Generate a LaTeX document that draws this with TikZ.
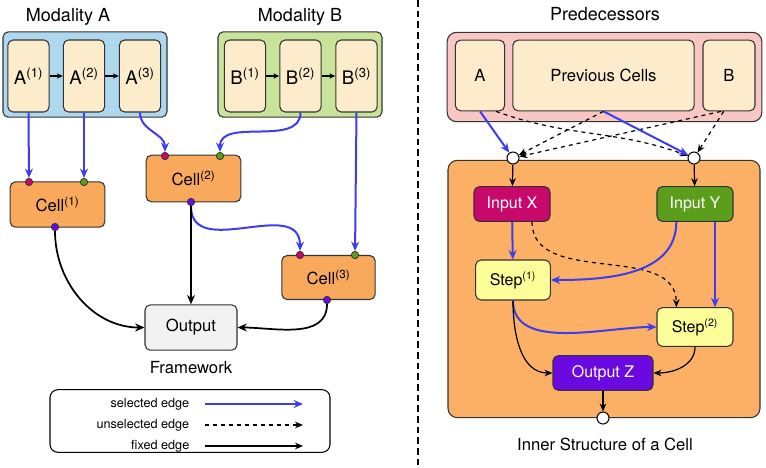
\documentclass[tikz,border=0pt]{standalone}
\usepackage{fontspec}
\setmainfont{TeX Gyre Heros}
\usetikzlibrary{arrows.meta}
\definecolor{boxA}{HTML}{AED8EE}
\definecolor{boxB}{HTML}{C8E49A}
\definecolor{inner}{HTML}{FDECCB}
\definecolor{cellc}{HTML}{F9A95C}
\definecolor{pinkc}{HTML}{F8C6C3}
\definecolor{bigor}{HTML}{FCB065}
\definecolor{magc}{HTML}{C8086B}
\definecolor{grnc}{HTML}{5A9E1C}
\definecolor{purc}{HTML}{6A0AE0}
\definecolor{yelc}{HTML}{FDFD99}
\definecolor{selc}{HTML}{3C3CF0}
\tikzset{
 box/.style={draw=black!80,line width=0.8pt,rounded corners=4pt,inner sep=0pt},
 inb/.style={box,fill=inner,font=\fontsize{14}{14}\selectfont},
 cell/.style={box,fill=cellc,font=\fontsize{12.5}{13}\selectfont},
 dot/.style={circle,draw=black!80,line width=0.6pt,minimum size=5.5pt,inner sep=0pt},
 jn/.style={circle,draw=black,line width=0.8pt,fill=white,minimum size=9pt,inner sep=0pt},
 sel/.style={draw=selc,line width=1.5pt,-{Stealth[length=7pt,width=6pt]}},
 uns/.style={draw=black,line width=0.9pt,dashed,-{Stealth[length=6pt,width=5pt]}},
 fix/.style={draw=black,line width=1.3pt,-{Stealth[length=7pt,width=6pt]}},
 fixs/.style={draw=black,line width=0.9pt,-{Stealth[length=6pt,width=5pt]}},
 ttl/.style={font=\fontsize{13.5}{14}\selectfont},
 inn/.style={box,font=\fontsize{12}{13}\selectfont,text=white},
}
\begin{document}
\begin{tikzpicture}[x=0.75pt,y=-0.75pt]
\useasboundingbox (0,0) rectangle (766,467);
% left
\node[ttl] (tA) at (68,17) {Modality A};
\node[ttl] (tB) at (300,17) {Modality B};
\node[box,fill=boxA,minimum width=123pt,minimum height=64pt] (MA) at (85,74.5) {};
\node[box,fill=boxB,minimum width=123pt,minimum height=64pt] (MB) at (300,74.5) {};
\node[inb,minimum width=31pt,minimum height=54pt] (A1) at (28.5,76) {A\textsuperscript{(1)}};
\node[inb,minimum width=31pt,minimum height=54pt] (A2) at (84,76) {A\textsuperscript{(2)}};
\node[inb,minimum width=31pt,minimum height=54pt] (A3) at (140,76) {A\textsuperscript{(3)}};
\node[inb,minimum width=31pt,minimum height=54pt] (B1) at (245,76) {B\textsuperscript{(1)}};
\node[inb,minimum width=31pt,minimum height=54pt] (B2) at (300.5,76) {B\textsuperscript{(2)}};
\node[inb,minimum width=31pt,minimum height=54pt] (B3) at (356.5,76) {B\textsuperscript{(3)}};
\foreach \a/\b in {A1/A2,A2/A3,B1/B2,B2/B3}
  \draw[line width=0.8pt,-{Stealth[length=4.5pt,width=4pt]}] (\a) -- (\b);
\node[cell,minimum width=71pt,minimum height=34pt] (C1) at (57.5,204.5) {Cell\textsuperscript{(1)}};
\node[cell,minimum width=71pt,minimum height=35pt] (C2) at (193.5,178.5) {Cell\textsuperscript{(2)}};
\node[cell,minimum width=70pt,minimum height=33pt] (C3) at (328.5,277.5) {Cell\textsuperscript{(3)}};
\node[box,fill=black!5,minimum width=69pt,minimum height=34pt,font=\fontsize{12.5}{13}\selectfont] (Out) at (191,327.5) {Output};
\node[ttl,font=\fontsize{12.5}{13}\selectfont] (fw) at (191,368) {Framework};
\node[dot,fill=magc] (c1m) at (29,182) {};
\node[dot,fill=grnc] (c1g) at (84,182) {};
\node[dot,fill=purc] (c1o) at (55,227) {};
\node[dot,fill=magc] (c2m) at (165,156) {};
\node[dot,fill=grnc] (c2g) at (220,156) {};
\node[dot,fill=purc] (c2o) at (191,202) {};
\node[dot,fill=magc] (c3m) at (300,255) {};
\node[dot,fill=grnc] (c3g) at (355,255) {};
\node[dot,fill=purc] (c3o) at (327,300) {};
\draw[sel] (A3.south) to[out=-90,in=90] (c2m);
\draw[sel] (A1.south) -- (c1m);
\draw[sel] (A2.south) -- (c1g);
\draw[sel] (B2.south) to[out=-90,in=90] (c2g);
\draw[sel] (B3.south) -- (c3g);
\draw[sel] (c2o) to[out=-90,in=90,looseness=1.2] (c3m);
\draw[fix] (c1o) to[out=-90,in=180] (Out.west);
\draw[fix] (c2o) -- (Out.north);
\draw[fix] (c3o) to[out=-90,in=0] (Out.east);
% legend
\node[box,draw=black,fill=white,minimum width=210pt,minimum height=47pt,rounded corners=6pt] (leg) at (190,421) {};
\node[anchor=east,font=\fontsize{9.5}{10}\selectfont] (l1) at (194,404) {selected edge};
\node[anchor=east,font=\fontsize{9.5}{10}\selectfont] (l2) at (194,425) {unselected edge};
\node[anchor=east,font=\fontsize{9.5}{10}\selectfont] (l3) at (194,446) {fixed edge};
\coordinate (s1) at (205,404); \coordinate (e1) at (303,404);
\coordinate (s2) at (205,425); \coordinate (e2) at (303,425);
\coordinate (s3) at (205,446); \coordinate (e3) at (303,446);
\draw[sel] (s1) -- (e1);
\draw[uns] (s2) -- (e2);
\draw[fixs,line width=1.1pt] (s3) -- (e3);
% divider
\coordinate (d1) at (418,0); \coordinate (d2) at (418,467);
\draw[line width=1pt,dash pattern=on 5pt off 3pt] (d1) -- (d2);
% right
\node[ttl] (tP) at (605,14) {Predecessors};
\node[box,fill=pinkc,minimum width=236pt,minimum height=67pt,rounded corners=7pt] (P) at (604.5,77) {};
\node[box,fill=bigor,minimum width=234pt,minimum height=193pt,rounded corners=7pt] (Big) at (604,289) {};
\node[inb,minimum width=37pt,minimum height=53pt,font=\fontsize{12.5}{13}\selectfont] (pA) at (480,75.5) {A};
\node[inb,minimum width=136pt,minimum height=53pt,font=\fontsize{12.5}{13}\selectfont] (pC) at (603.5,75.5) {Previous Cells};
\node[inb,minimum width=39pt,minimum height=53pt,font=\fontsize{12.5}{13}\selectfont] (pB) at (729,75.5) {B};
\node[jn] (j1) at (513,158) {};
\node[jn] (j2) at (694,158) {};
\node[jn] (j3) at (603,418) {};
\node[inn,fill=magc,minimum width=57pt,minimum height=26pt] (X) at (512,204) {Input X};
\node[inn,fill=grnc,minimum width=57pt,minimum height=26pt] (Y) at (695,204) {Input Y};
\node[inn,fill=yelc,text=black,minimum width=56pt,minimum height=30pt] (S1) at (513,280) {Step\textsuperscript{(1)}};
\node[inn,fill=yelc,text=black,minimum width=57pt,minimum height=29pt] (S2) at (695,327) {Step\textsuperscript{(2)}};
\node[inn,fill=purc,minimum width=75pt,minimum height=26pt] (Z) at (603,373) {Output Z};
\node[ttl,font=\fontsize{12.5}{13}\selectfont] (tI) at (605,444) {Inner Structure of a Cell};
\draw[uns] ([xshift=12pt]pA.south) to[out=-20,in=160] (j2);
\draw[uns] (pC.south) -- (j1);
\draw[uns] ([xshift=-6pt]pB.south) -- (j1);
\draw[uns] ([xshift=-4pt]pB.south) -- (j2);
\draw[sel] (pA.south) -- (j1);
\draw[sel] (pC.south) -- (j2);
\draw[fixs] (j1) -- (X);
\draw[fixs] (j2) -- (Y);
\draw[sel] (X) -- (S1);
\draw[uns] ([xshift=15pt]X.south) to[out=-90,in=90] ([xshift=-14pt]S2.north);
\draw[sel] ([xshift=-14pt]Y.south) to[out=-90,in=0] (S1.east);
\draw[sel] ([xshift=15pt]Y.south) -- ([xshift=15pt]S2.north);
\draw[sel] (S1.south) to[out=-90,in=180,looseness=0.9] (S2.west);
\draw[fixs] (S1.south) to[out=-90,in=180] (Z.west);
\draw[fixs] (S2.south) to[out=-90,in=0] (Z.east);
\draw[fixs] (Z) -- (j3);
\end{tikzpicture}
\end{document}
